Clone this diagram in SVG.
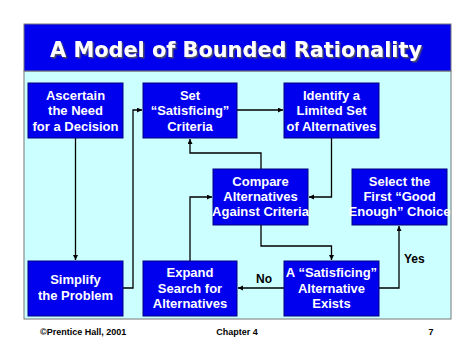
<svg xmlns="http://www.w3.org/2000/svg" width="474" height="355" viewBox="0 0 474 355">
<style>
.box{fill:#0000EE;stroke:#000080;stroke-width:1}
.bt{font-family:"Liberation Sans",Arial,sans-serif;font-weight:bold;font-size:13px;fill:#fff;text-anchor:middle}
.lbl{font-family:"Liberation Sans",Arial,sans-serif;font-weight:bold;font-size:12px;fill:#000}
.ft{font-family:"Liberation Sans",Arial,sans-serif;font-weight:bold;font-size:9px;fill:#000}
.con{fill:none;stroke:#000;stroke-width:1.3;marker-end:url(#arr)}
</style>
<defs>
<marker id="arr" markerUnits="userSpaceOnUse" markerWidth="6" markerHeight="6" refX="5" refY="2.5" orient="auto">
<path d="M0,0 L5,2.5 L0,5 z" fill="#000"/>
</marker>
<filter id="sh" x="-5%" y="-20%" width="110%" height="150%">
<feDropShadow dx="1.5" dy="1.5" stdDeviation="0.6" flood-color="#555" flood-opacity="0.9"/>
</filter>
</defs>
<rect width="474" height="355" fill="#fff"/>
<rect x="24" y="71" width="427" height="248" fill="#CCFFFF" stroke="#777" stroke-width="1"/>
<g id="title">
<rect x="24" y="24" width="427" height="47" fill="#0000EE" stroke="#777" stroke-width="1"/>
<text x="236" y="57" font-family="'DejaVu Sans',Verdana,sans-serif" font-weight="bold" font-size="21" fill="#fff" text-anchor="middle" textLength="372" lengthAdjust="spacingAndGlyphs" filter="url(#sh)">A Model of Bounded Rationality</text>
</g>
<g id="connectors">
<path class="con" d="M75.5 138 V260"/>
<path class="con" d="M123 288 H133 V110 H142"/>
<path class="con" d="M237 110 H283"/>
<path class="con" d="M331.5 138 V197 H309"/>
<path class="con" d="M261 169 V153 H190 V139"/>
<path class="con" d="M261 225 V246 H331.5 V260"/>
<path class="con" d="M284 288 H238"/>
<path class="con" d="M379 288 H399 V226"/>
<path class="con" d="M190 261 V197 H212"/>
</g>
<g id="n1"><rect class="box" x="28" y="83" width="95" height="55"/>
<text class="bt" x="75.5" y="99.5">Ascertain</text><text class="bt" x="75.5" y="115">the Need</text><text class="bt" x="75.5" y="130.5">for a Decision</text></g>
<g id="n2"><rect class="box" x="143" y="83" width="94" height="55"/>
<text class="bt" x="190" y="99.5">Set</text><text class="bt" x="190" y="115">“Satisficing”</text><text class="bt" x="190" y="130.5">Criteria</text></g>
<g id="n3"><rect class="box" x="284" y="83" width="95" height="55"/>
<text class="bt" x="331.5" y="99.5">Identify a</text><text class="bt" x="331.5" y="115">Limited Set</text><text class="bt" x="331.5" y="130.5">of Alternatives</text></g>
<g id="n4"><rect class="box" x="213" y="169" width="95" height="56"/>
<text class="bt" x="260.5" y="186">Compare</text><text class="bt" x="260.5" y="201">Alternatives</text><text class="bt" x="260.5" y="216">Against Criteria</text></g>
<g id="n5"><rect class="box" x="352" y="169" width="95" height="56"/>
<text class="bt" x="399.5" y="186">Select the</text><text class="bt" x="399.5" y="201">First “Good</text><text class="bt" x="399.5" y="216">Enough” Choice</text></g>
<g id="n6"><rect class="box" x="28" y="261" width="95" height="55"/>
<text class="bt" x="75.5" y="284">Simplify</text><text class="bt" x="75.5" y="300">the Problem</text></g>
<g id="n7"><rect class="box" x="143" y="261" width="94" height="55"/>
<text class="bt" x="190" y="277">Expand</text><text class="bt" x="190" y="292.5">Search for</text><text class="bt" x="190" y="308">Alternatives</text></g>
<g id="n8"><rect class="box" x="284" y="261" width="95" height="55"/>
<text class="bt" x="331.5" y="277">A “Satisficing”</text><text class="bt" x="331.5" y="292.5">Alternative</text><text class="bt" x="331.5" y="308">Exists</text></g>
<text class="lbl" x="256" y="283">No</text>
<text class="lbl" x="404" y="263">Yes</text>
<text class="ft" x="40" y="335">©Prentice Hall, 2001</text>
<text class="ft" x="237" y="335" text-anchor="middle">Chapter 4</text>
<text class="ft" x="431" y="335" text-anchor="middle">7</text>
</svg>
